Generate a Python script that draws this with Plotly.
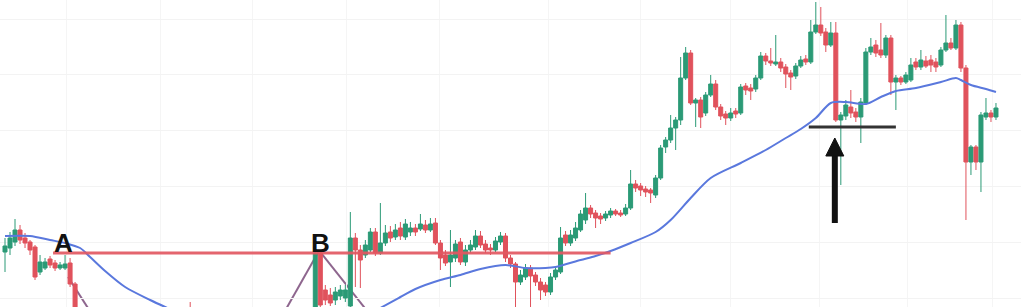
import plotly.graph_objects as go

# ---- candle data (index = bar number) ----
open_ = [248,252,258,270,262,258,253,228,232,241,
         237,232,232,237,216,190,172,160,167,150,
         142,150,136,128,135,142,134,145,152,148,
         158,166,160,170,178,172,182,188,180,170,
         162,168,156,150,156,145,140,148,142,136,
         144,150,144,155,162,158,168,175,170,178,
         184,180,187,247,210,205,200,204,202,194,
         262,250,245,250,268,247,257,268,263,272,
         263,268,272,271,275,270,277,257,245,238,
         242,258,238,250,253,264,256,252,250,258,
         264,242,236,218,223,232,225,218,215,208,
         223,228,265,257,262,270,280,292,287,284,
         282,285,289,287,286,292,316,314,311,310,
         305,322,353,360,372,380,422,447,397,400,
         387,405,416,393,386,382,389,387,414,412,
         411,422,444,439,436,438,433,427,424,434,
         441,438,468,475,468,455,467,380,384,393,
         388,383,397,448,455,450,445,462,418,422,
         418,420,438,433,439,440,438,435,450,457,
         452,475,432,338,353,338,383,387,383]
close = [254,262,270,260,257,250,223,238,238,235,
         232,235,236,216,190,172,160,167,150,142,
         150,136,128,135,142,134,145,152,148,158,
         166,160,170,178,172,182,188,180,170,162,
         168,156,150,156,145,140,148,142,136,144,
         150,144,155,162,158,168,175,170,178,184,
         180,187,247,195,200,197,208,210,210,262,
         250,240,255,268,247,257,267,262,270,264,
         276,272,268,276,270,276,257,242,237,245,
         256,238,250,255,264,255,250,250,259,264,
         242,236,218,225,232,224,218,210,208,223,
         230,262,257,265,272,286,292,286,282,281,
         286,289,286,285,292,316,312,310,308,307,
         322,352,360,372,380,422,447,397,400,383,
         405,416,393,384,382,387,386,413,410,409,
         422,444,439,437,438,432,426,423,434,440,
         438,468,475,467,455,467,380,385,395,387,
         383,398,448,453,447,445,462,418,422,418,
         425,435,433,440,434,435,433,450,457,452,
         475,432,338,353,338,385,387,383,392]
high = [262,268,281,275,267,260,255,245,242,244,
        240,238,245,242,218,191,178,170,170,155,
        153,152,140,138,145,146,150,156,158,162,
        170,172,174,182,183,186,191,198,185,174,
        172,171,160,160,159,149,152,151,145,148,
        154,155,158,166,167,172,180,182,182,188,
        189,191,248,248,215,212,213,215,215,288,
        267,255,260,272,272,297,275,274,276,278,
        281,278,276,286,280,282,282,260,250,270,
        260,262,255,260,270,269,260,256,263,268,
        267,245,238,230,236,235,228,222,218,227,
        234,273,269,270,278,290,307,295,290,287,
        289,292,291,290,296,330,320,317,314,312,
        325,355,363,385,383,443,453,450,402,403,
        408,425,420,396,389,392,392,416,417,416,
        425,448,447,452,465,442,436,430,437,444,
        445,480,498,493,472,478,478,388,400,410,
        392,402,452,462,460,477,465,465,425,424,
        428,442,442,450,444,445,442,453,485,462,
        480,478,435,355,355,388,402,390,397]
low = [228,245,254,256,252,245,220,225,230,232,
       229,230,230,213,186,168,155,152,145,138,
       134,130,122,120,130,128,131,142,143,145,
       154,156,157,166,168,169,179,176,166,158,
       159,152,144,146,140,135,134,138,132,130,
       140,140,142,151,154,155,165,166,167,174,
       176,177,184,191,195,194,195,200,198,192,
       213,212,242,248,244,245,254,258,260,260,
       260,264,264,269,267,268,255,230,234,213,
       238,235,234,247,250,252,247,245,248,255,
       238,232,193,215,220,193,214,200,204,205,
       220,226,254,254,259,268,276,282,272,276,
       279,282,284,283,284,290,308,304,303,297,
       302,320,347,357,350,375,420,395,373,372,
       384,403,390,380,375,379,382,385,405,400,
       408,420,435,434,434,428,412,410,421,432,
       435,436,466,464,448,453,378,315,380,382,
       378,357,395,445,443,442,442,405,390,415,
       416,418,430,430,432,428,428,433,448,450,
       450,428,280,325,330,308,380,378,380]
bars = list(range(len(open_)))

# ---- moving average, read at selected bars ----
ma_bar = [0,5,9,12,15,17,20,24,29,32,
          37,43,49,55,61,67,71,75,79,82,
          87,91,95,100,104,108,110,115,118,121,
          125,130,133,137,141,147,152,156,159,162,
          165,168,172,175,178,182,187,190,191,193,
          196,198]
ma_val = [264,264,260,257,252,243,229,213,200,193,
          182,170,162,158,160,170,180,192,203,211,
          220,225,231,235,232,232,233,240,244,249,
          257,268,280,302,322,337,350,362,371,382,
          397,398,396,403,409,412,418,422,420,415,
          411,408]

# ---- drawing annotations (levels on the chart) ----
level_AB = 247          # red horizontal level
level_AB_from, level_AB_to = 9.6, 121
support = 373           # black support line
support_from, support_to = 160.6, 178
label_A = (11.6, 257)
label_B = (63, 257)
arrow_bar, arrow_tail, arrow_tip = 165.8, 277, 362
purple_legs = [((12.6, 223), (19, 173)),
               ((53, 163), (62.6, 248)),
               ((63, 248), (73, 185))]
grid_x = [12.2, 31, 49.5, 68.3, 86.9, 108.5, 126.9, 144.9, 162.8, 180.4, 197.4]

fig = go.Figure()
fig.add_trace(go.Candlestick(
    x=bars, open=open_, high=high, low=low, close=close,
    increasing=dict(line=dict(color="#2b9a76", width=1), fillcolor="#2b9a76"),
    decreasing=dict(line=dict(color="#e0525c", width=1), fillcolor="#e0525c"),
    whiskerwidth=0, showlegend=False, hoverinfo="skip"))
fig.add_trace(go.Scatter(
    x=ma_bar, y=ma_val, mode="lines",
    line=dict(color="#5a78dd", width=2, shape="spline", smoothing=0.8),
    showlegend=False, hoverinfo="skip"))

shapes = []
for (x0, y0), (x1, y1) in purple_legs:
    shapes.append(dict(type="line", x0=x0, y0=y0, x1=x1, y1=y1, xref="x", yref="y",
                       line=dict(color="rgba(130,85,130,0.9)", width=2), layer="below"))
shapes.append(dict(type="line", x0=level_AB_from, x1=level_AB_to, y0=level_AB, y1=level_AB,
                   xref="x", yref="y", line=dict(color="rgba(226,88,98,0.92)", width=3)))
shapes.append(dict(type="line", x0=support_from, x1=support_to, y0=support, y1=support,
                   xref="x", yref="y", line=dict(color="#333333", width=3)))
shapes.append(dict(type="line", x0=arrow_bar, x1=arrow_bar, y0=arrow_tail, y1=arrow_tip - 16,
                   xref="x", yref="y", line=dict(color="#111111", width=6)))
shapes.append(dict(type="path",
                   path=f"M {arrow_bar-1.8},{arrow_tip-18} L {arrow_bar},{arrow_tip} L {arrow_bar+1.8},{arrow_tip-18} Z",
                   xref="x", yref="y", fillcolor="#111111", line=dict(color="#111111", width=1)))

annotations = []
for txt, (ax_, ay_) in (("A", label_A), ("B", label_B)):
    annotations.append(dict(x=ax_, y=ay_, xref="x", yref="y", text=f"<b>{txt}</b>",
                            showarrow=False, font=dict(family="Liberation Sans", size=26, color="#111111")))

fig.update_layout(
    width=1021, height=307, margin=dict(l=0, r=0, t=0, b=0),
    paper_bgcolor="white", plot_bgcolor="white",
    boxgap=0.2, boxgroupgap=0,
    shapes=shapes, annotations=annotations,
    xaxis=dict(range=[-1, 203], showticklabels=False, tickvals=grid_x, showgrid=True,
               gridcolor="#f5f5f5", gridwidth=1, zeroline=False, rangeslider=dict(visible=False),
               showline=False, ticks=""),
    yaxis=dict(range=[193, 500], showticklabels=False, tick0=202, dtick=55.8, showgrid=True,
               gridcolor="#f3f3f3", gridwidth=1, zeroline=False, showline=False, ticks=""),
)
fig.write_html("out.html")
